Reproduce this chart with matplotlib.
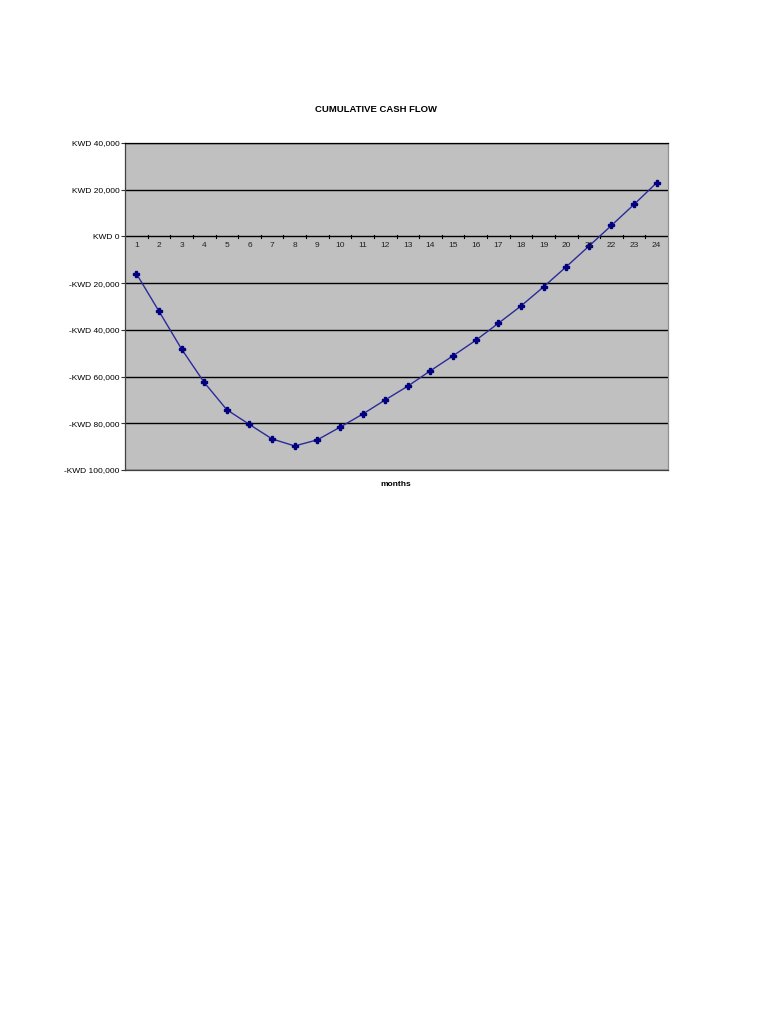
import matplotlib
matplotlib.use("Agg")
import matplotlib.pyplot as plt
from matplotlib.ticker import FuncFormatter, FixedLocator
import numpy as np

months = list(range(1, 25))
cumulative = [-15900, -32000, -48200, -62500, -74200, -80500, -86700, -89700,
              -87100, -81700, -76100, -70000, -64100, -57500, -51100, -44500,
              -37200, -29800, -21600, -13000, -4200, 4700, 13700, 23000]
y_ticks = [40000, 20000, 0, -20000, -40000, -60000, -80000, -100000]

fam = ['Liberation Sans Narrow', 'Liberation Sans', 'DejaVu Sans']
plt.rcParams['font.family'] = fam

fig = plt.figure(figsize=(7.68, 10.24), dpi=100)
ax = fig.add_axes([125/768, 1-470/1024, (668-125)/768, (470-143)/1024])
ax.set_facecolor('#c0c0c0')

ax.set_xlim(0.5, 24.5)
ax.set_ylim(-100000, 40000)

for v in y_ticks:
    ax.axhline(v, color='black', lw=1.0, zorder=1)

ax.plot(months, cumulative, color='#2a2a9a', lw=1.0, zorder=3)
ax.plot(months, cumulative, linestyle='none', marker='P', ms=3.8,
        color='#000080', zorder=4)

def fmt(v, pos):
    if v == 0:
        return 'KWD 0'
    s = 'KWD {:,.0f}'.format(abs(v))
    return ('-' + s) if v < 0 else s

ax.yaxis.set_major_locator(FixedLocator(y_ticks))
ax.yaxis.set_major_formatter(FuncFormatter(fmt))
ax.tick_params(axis='y', labelsize=6, length=3, width=0.8, color='#333333', pad=1)

# category axis along zero line
ax.set_xticks([])
for b in np.arange(1.5, 24.5, 1.0):
    ax.plot([b, b], [-800, 800], color='black', lw=0.8, zorder=2)
for m in months:
    ax.text(m, -2300, str(m), ha='center', va='top', fontsize=6, color='#222222', zorder=5)

ax.spines['left'].set_color('#404040')
ax.spines['bottom'].set_color('#404040')
ax.spines['top'].set_color('black')
ax.spines['right'].set_color('#909090')
for s in ax.spines.values():
    s.set_linewidth(0.9)

fig.text(376/768, 1-109/1024, 'CUMULATIVE CASH FLOW', ha='center', va='center',
         fontsize=6.8, fontweight='bold')
fig.text(396/768, 1-485/1024, 'months', ha='center', va='center',
         fontsize=6, fontweight='bold')

fig.savefig('out.png', dpi=100)
